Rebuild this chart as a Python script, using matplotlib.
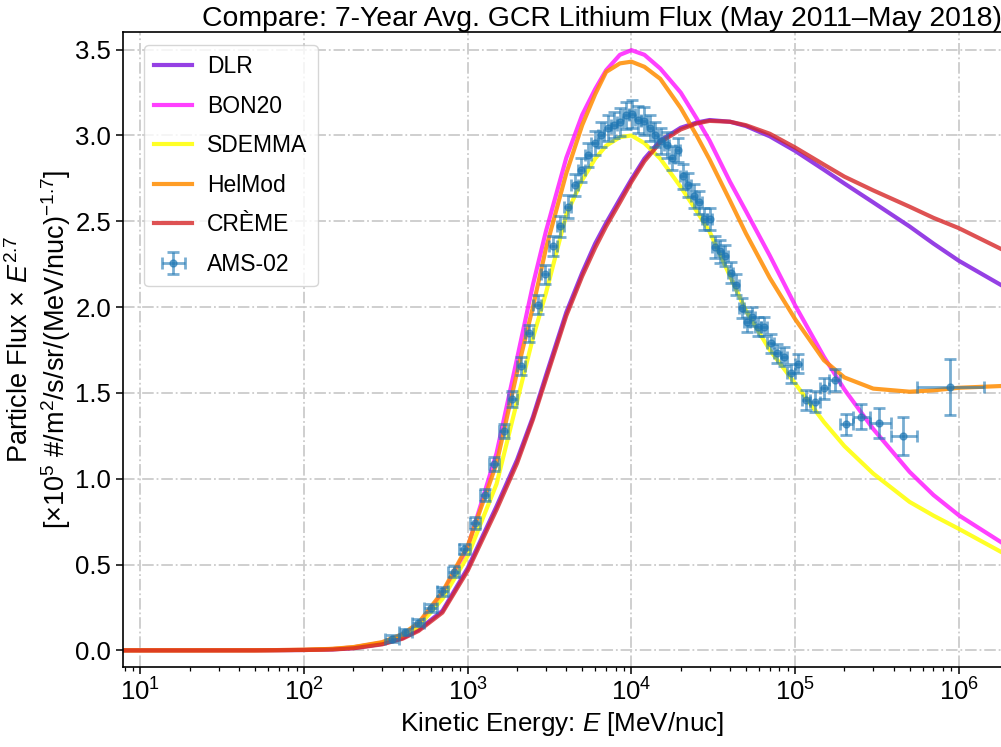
import numpy as np
import matplotlib
matplotlib.use('Agg')
import matplotlib.pyplot as plt

plt.rcParams['font.family'] = ['Liberation Sans', 'DejaVu Sans']
plt.rcParams['mathtext.fontset'] = 'custom'
plt.rcParams['mathtext.rm'] = 'Liberation Sans'
plt.rcParams['mathtext.it'] = 'Liberation Sans:italic'
plt.rcParams['mathtext.bf'] = 'Liberation Sans:bold'

# model curves (flux x E^2.7, units of 1e5)
model_E = [8, 10, 20, 50, 100, 150, 200, 300, 400, 500, 700, 1000, 1500, 2000,
           2500, 3000, 4000, 5000, 6000, 7000, 8500, 1e4, 1.2e4, 1.5e4, 2e4,
           2.5e4, 3e4, 4e4, 5e4, 7e4, 1e5, 1.5e5, 2e5, 3e5, 5e5, 7e5, 1e6, 1.8e6]

dlr = [0, 0, 0, 0.0003, 0.002, 0.006, 0.013, 0.038, 0.072, 0.12, 0.23, 0.48,
       0.84, 1.11, 1.36, 1.6, 1.97, 2.2, 2.37, 2.49, 2.63, 2.745, 2.865, 2.97,
       3.045, 3.075, 3.09, 3.08, 3.055, 2.995, 2.91, 2.80, 2.72, 2.61, 2.47,
       2.37, 2.27, 2.13]
bon20 = [0, 0, 0, 0.0003, 0.003, 0.008, 0.018, 0.045, 0.088, 0.15, 0.33, 0.6,
         1.15, 1.70, 2.13, 2.44, 2.87, 3.12, 3.27, 3.38, 3.47, 3.497, 3.47,
         3.39, 3.25, 3.10, 2.97, 2.73, 2.56, 2.30, 2.01, 1.71, 1.52, 1.29, 1.04,
         0.905, 0.787, 0.632]
sdemma = [0, 0, 0, 0.0003, 0.003, 0.008, 0.017, 0.043, 0.083, 0.14, 0.3, 0.55,
          0.97, 1.45, 1.82, 2.08, 2.54, 2.74, 2.865, 2.94, 2.99, 3.0, 2.955,
          2.865, 2.70, 2.56, 2.44, 2.18, 1.98, 1.75, 1.555, 1.33, 1.19, 1.03,
          0.865, 0.785, 0.708, 0.575]
helmod = [0, 0, 0, 0.0003, 0.003, 0.009, 0.019, 0.048, 0.095, 0.16, 0.34, 0.61,
          1.09, 1.62, 2.0, 2.34, 2.78, 3.06, 3.24, 3.37, 3.42, 3.43, 3.40, 3.33,
          3.16, 3.0, 2.86, 2.62, 2.43, 2.17, 1.93, 1.69, 1.59, 1.525, 1.507,
          1.515, 1.53, 1.54]
creme = [0, 0, 0, 0.0002, 0.002, 0.005, 0.012, 0.035, 0.068, 0.113, 0.22, 0.465,
         0.82, 1.09, 1.345, 1.58, 1.95, 2.18, 2.345, 2.47, 2.61, 2.73, 2.85,
         2.96, 3.035, 3.07, 3.085, 3.08, 3.06, 3.01, 2.93, 2.83, 2.76, 2.68,
         2.585, 2.52, 2.46, 2.34]

# AMS-02 points
ams_E = [344, 416, 499, 593, 700, 820, 954, 1103, 1268, 1452, 1655, 1876, 2117,
         2381, 2668, 2979, 3317, 3681, 4080, 4502, 4946, 5432, 5962, 6536, 7152,
         7812, 8515, 9282, 10110, 10990, 11930, 12930, 14000, 15160, 16400,
         17720, 19140, 20650, 22280, 24010, 25880, 27890, 30050, 32360, 34840,
         37520, 40410, 43620, 47050, 50690, 54750, 59450, 64800, 70790, 77630,
         85330, 94100, 104400, 116700, 131900, 150600, 174300, 205300, 251300,
         325700, 457500, 886800]
ams_F = [0.068, 0.107, 0.16, 0.247, 0.344, 0.459, 0.589, 0.743, 0.904, 1.085,
         1.28, 1.464, 1.657, 1.848, 2.013, 2.192, 2.357, 2.47, 2.586, 2.713,
         2.80, 2.888, 2.956, 3.005, 3.044, 3.063, 3.079, 3.117, 3.125, 3.092,
         3.083, 3.044, 3.005, 2.966, 2.946, 2.868, 2.917, 2.761, 2.713, 2.645,
         2.61, 2.513, 2.513, 2.35, 2.324, 2.299, 2.201, 2.13, 1.994, 1.916,
         1.945, 1.886, 1.886, 1.789, 1.731, 1.711, 1.614, 1.669, 1.459, 1.449,
         1.527, 1.575, 1.317, 1.361, 1.326, 1.249, 1.536]
ams_err = [0.02, 0.02, 0.02, 0.025, 0.025, 0.03, 0.03, 0.035, 0.035, 0.04, 0.04,
           0.045, 0.05, 0.05, 0.055, 0.055, 0.06, 0.06, 0.065, 0.065, 0.07, 0.07,
           0.07, 0.075, 0.075, 0.075, 0.08, 0.08, 0.08, 0.08, 0.08, 0.075, 0.075,
           0.075, 0.075, 0.07, 0.07, 0.07, 0.07, 0.07, 0.065, 0.065, 0.065, 0.065,
           0.065, 0.06, 0.06, 0.06, 0.06, 0.06, 0.055, 0.055, 0.055, 0.055, 0.055,
           0.055, 0.055, 0.055, 0.06, 0.06, 0.06, 0.064, 0.063, 0.073, 0.088,
           0.112, 0.163]
ams_top_bin = [5.55e5, 1.42e6]

# energy bin edges: halfway (in log) between neighbouring points
logE = np.log10(ams_E)
mid = (logE[:-1] + logE[1:]) / 2
lo = np.concatenate([[2 * logE[0] - mid[0]], mid])
hi = np.concatenate([mid, [2 * logE[-1] - mid[-1]]])
lo[-1], hi[-1] = np.log10(ams_top_bin)
hi[-2] = lo[-1]
E = np.array(ams_E, dtype=float)
xerr = [E - 10 ** lo, 10 ** hi - E]

fig = plt.figure(figsize=(10.01, 7.47), dpi=100)
ax = fig.add_axes([0.1229, 0.1071, 0.8771, 0.8494])

lw = 3
ax.plot(model_E, dlr, color='blueviolet', lw=lw, alpha=0.9, label='DLR')
ax.plot(model_E, bon20, color='magenta', lw=lw, alpha=0.75, label='BON20')
ax.plot(model_E, sdemma, color='yellow', lw=lw, alpha=0.85, label='SDEMMA')
ax.plot(model_E, helmod, color='darkorange', lw=lw, alpha=0.85, label='HelMod')
ax.plot(model_E, creme, color='tab:red', lw=lw, alpha=0.8, label='CRÈME')
ax.errorbar(ams_E, ams_F, yerr=ams_err, xerr=xerr, fmt='o', color='tab:blue',
            alpha=0.6, ms=5, elinewidth=2, capsize=4, capthick=2,
            label='AMS-02')

ax.set_xscale('log')
ax.set_xlim(7.83, 1.81e6)
ax.set_ylim(-0.097, 3.6)
ax.grid(True, which='major', ls='-.', color='#cccccc', lw=1.3)
ax.spines['right'].set_visible(False)
ax.tick_params(labelsize=18.5, length=5, width=1.1)
ax.tick_params(which='minor', length=3, width=0.9)
for s in ax.spines.values():
    s.set_linewidth(1.2)

ax.set_xlabel('Kinetic Energy: $E$ [MeV/nuc]', fontsize=18.7, labelpad=3)
ax.set_ylabel('Particle Flux × $E^{2.7}$\n'
              '[×10$^5$ #/m$^2$/s/sr/(MeV/nuc)$^{-1.7}$]', fontsize=19.5,
              labelpad=2)
ax.set_title('Compare: 7-Year Avg. GCR Lithium Flux (May 2011–May 2018)',
             fontsize=20.4, x=0.546, pad=4)

ax.legend(loc='upper left', bbox_to_anchor=(0.024, 0.98), borderaxespad=0,
          fontsize=16.5, labelspacing=0.72, handlelength=1.65,
          handletextpad=0.65, borderpad=0.45, framealpha=0.8)

fig.savefig('out.png', dpi=100)
